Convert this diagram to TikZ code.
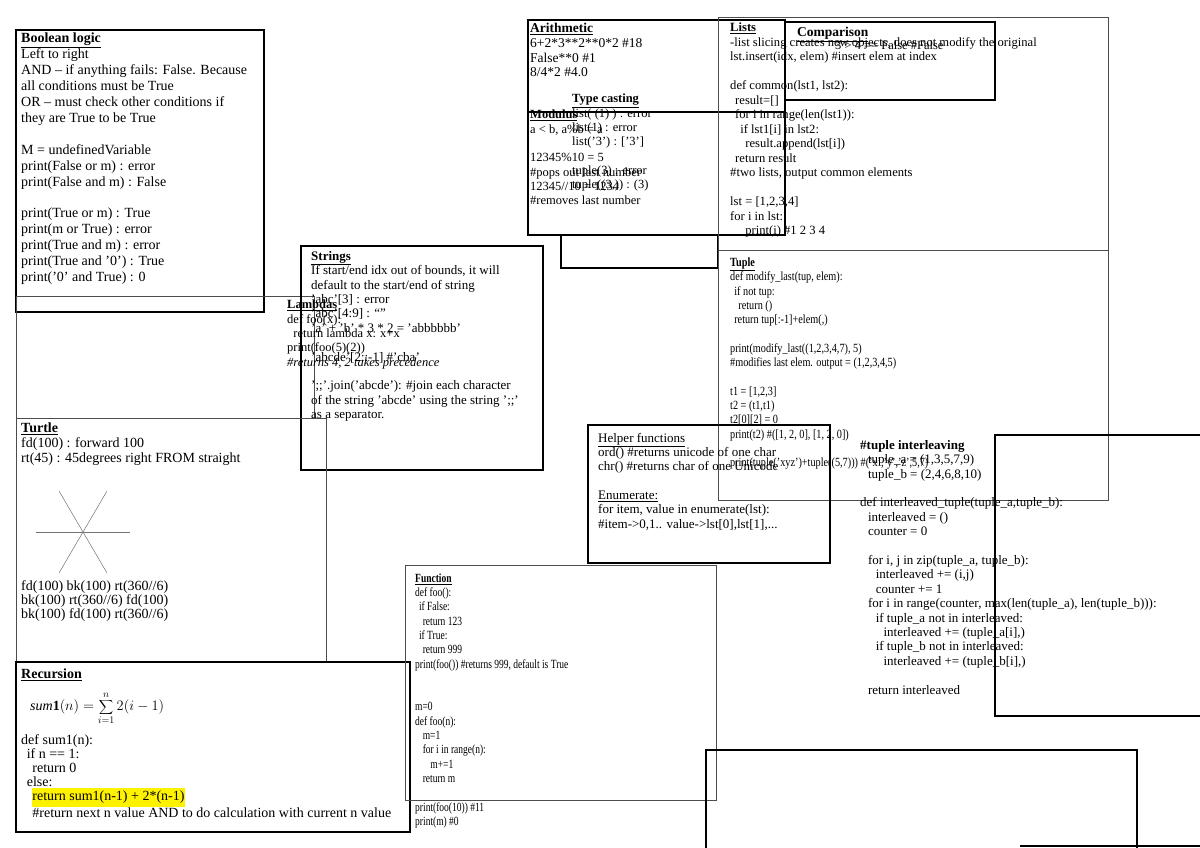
\documentclass[tikz,border=0pt]{standalone}
\usepackage{fontspec}
\usepackage{graphicx}
\setmainfont{Liberation Serif}
\newcommand{\T}[1]{\textbf{\underline{#1}}}
\newcommand{\I}[1]{\hspace*{#1em}}
\newcommand{\narrow}[2]{\scalebox{#1}[1]{\begin{tabular}{@{}l@{}}#2\end{tabular}}}
\begin{document}
\begin{tikzpicture}[x=1pt,y=-1pt,
  bx/.style={draw=black,line width=1.4pt},
  thin/.style={draw=black!70,line width=0.9pt},
  txt/.style={anchor=north west,inner sep=0pt,align=left,font=\fontsize{12.5}{14.3}\selectfont},
  ray/.style={draw=black!55,line width=0.5pt}]
\useasboundingbox (0,0) rectangle (1200,848);
% boxes
\draw[bx] (16,30) rectangle (264,312);
\draw[thin] (16,296) rectangle (314,418);
\draw[bx] (301,246) rectangle (543,470);
\draw[thin] (16,418) rectangle (326,662);
\draw[bx] (16,662) rectangle (410,832);
\draw[thin] (405,565) rectangle (716,800);
\draw[bx] (528,20) rectangle (785,112);
\draw[bx] (528,112) rectangle (785,235);
\draw[bx] (561,235) rectangle (718,268);
\draw[thin] (718,17) rectangle (1108,250);
\draw[bx] (785,22) rectangle (995,100);
\draw[thin] (718,250) rectangle (1108,500);
\draw[bx] (588,425) rectangle (830,563);
\draw[bx] (995,435) rectangle (1202,716);
\draw[bx] (706,750) rectangle (1137,850);
\coordinate (la) at (1020,846); \coordinate (lb) at (1200,846);
\draw[bx] (la) -- (lb);
% Boolean
\node[txt,font=\fontsize{14}{15.9}\selectfont] (bool) at (21,33) {\T{Boolean logic}\\Left to right\\AND -- if anything fails: False. Because\\all conditions must be True\\OR -- must check other conditions if\\they are True to be True\\\strut\\M = undefinedVariable\\print(False or m) : error\\print(False and m) : False\\\strut\\print(True or m) : True\\print(m or True) : error\\print(True and m) : error\\print(True and '0') : True\\print('0' and True) : 0};
% Lambdas
\node[txt] (lam) at (287,300) {\T{Lambdas}\\def foo(x):\\\I{0.5}return lambda x: x+x\\print(foo(5)(2))\\\textit{\#returns 4, 2 takes precedence}};
% Strings
\node[txt,font=\fontsize{13}{14.4}\selectfont] (str) at (311,251) {\T{Strings}\\If start/end idx out of bounds, it will\\default to the start/end of string\\'abc'[3] : error\\'abc'[4:9] : “”\\'a' + 'b' * 3 * 2 = 'abbbbbb'\\\strut\\'abcde'[2::-1] \#'cba'\\\strut\\';;'.join('abcde'): \#join each character\\of the string 'abcde' using the string ';;'\\as a separator.};
% Turtle
\node[txt,font=\fontsize{14}{14.6}\selectfont] (turt) at (21,423) {\T{Turtle}\\fd(100) : forward 100\\rt(45) : 45degrees right FROM straight};
\coordinate (c) at (83,532);
\coordinate (r1) at (36,532); \coordinate (r2) at (130,532);
\coordinate (r3) at (59,491); \coordinate (r4) at (107,491);
\coordinate (r5) at (59,573); \coordinate (r6) at (107,573);
\draw[ray] (r1) -- (r2); \draw[ray] (r3) -- (r6); \draw[ray] (r4) -- (r5);
\node[txt,font=\fontsize{14}{14.2}\selectfont] (turt2) at (21,580) {fd(100) bk(100) rt(360//6)\\bk(100) rt(360//6) fd(100)\\bk(100) fd(100) rt(360//6)};
% Recursion
\node[txt,font=\fontsize{14}{14.2}\selectfont] (rec) at (21,669) {\T{Recursion}};
\node[anchor=west,inner sep=0pt,font=\fontsize{14}{16}\selectfont] (form) at (30,708) {$\displaystyle \mathit{sum}\mathbf{1}(n)=\sum_{i=1}^{n}2(i-1)$};
\node[txt,font=\fontsize{14}{14.2}\selectfont] (rec2) at (21,734) {def sum1(n):\\\I{0.4}if n == 1:\\\I{0.8}return 0\\\I{0.4}else:\\\I{0.8}\colorbox{yellow}{\rule{0pt}{9pt}\hspace*{-3pt}return sum1(n-1) + 2*(n-1)\hspace*{-3pt}}\\\I{0.8}\#return next n value AND to do calculation with current n value};
% Function
\node[txt] (func) at (415,572) {\narrow{0.76}{\T{Function}\\def foo():\\\I{0.4}if False:\\\I{0.8}return 123\\\I{0.4}if True:\\\I{0.8}return 999\\print(foo()) \#returns 999, default is True\\\strut\\\strut\\m=0\\def foo(n):\\\I{0.8}m=1\\\I{0.8}for i in range(n):\\\I{1.6}m+=1\\\I{0.8}return m\\\strut\\print(foo(10)) \#11\\print(m) \#0}};
% Arithmetic
\node[txt,font=\fontsize{13.5}{14.8}\selectfont] (ar) at (530,23) {\T{Arithmetic}\\6+2*3**2**0*2 \#18\\False**0 \#1\\8/4*2 \#4.0};
\node[txt] (tc) at (572,94) {\T{Type casting}\\list( (1) ) : error\\list(1) : error\\list('3') : ['3']\\\strut\\tuple(3) : error\\tuple((3,)) : (3)};
\node[txt] (mod) at (530,110) {\T{Modulus}\\a < b, a\%b = a\\\strut\\12345\%10 = 5\\\#pops out last number\\12345//10 = 1234\\\#removes last number};
% Lists
\node[txt,font=\fontsize{12.6}{14.5}\selectfont] (lst) at (730,23) {\T{Lists}\\-list slicing creates new objects, does not modify the original\\lst.insert(idx, elem) \#insert elem at index\\\strut\\def common(lst1, lst2):\\\I{0.4}result=[]\\\I{0.4}for i in range(len(lst1)):\\\I{0.8}if lst1[i] in lst2:\\\I{1.2}result.append(lst[i])\\\I{0.4}return result\\\#two lists, output common elements\\\strut\\lst = [1,2,3,4]\\for i in lst:\\\I{1.2}print(i) \#1 2 3 4};
% Comparison
\node[txt,font=\fontsize{13.5}{14.8}\selectfont] (cmp) at (797,27) {\T{Comparison}};
\node[txt] (cmp2) at (835,41) {3 > 4 == False \#False};
% Tuple
\node[txt] (tup) at (730,256) {\narrow{0.82}{\T{Tuple}\\def modify\_last(tup, elem):\\\I{0.4}if not tup:\\\I{0.8}return ()\\\I{0.4}return tup[:-1]+elem(,)\\\strut\\print(modify\_last((1,2,3,4,7), 5)\\\#modifies last elem. output = (1,2,3,4,5)\\\strut\\t1 = [1,2,3]\\t2 = (t1,t1)\\t2[0][2] = 0\\print(t2) \#([1, 2, 0], [1, 2, 0])\\\strut\\print(tuple('xyz')+tuple((5,7))) \#('x','y','z',5,7)}};
% Helper
\node[txt,font=\fontsize{13}{14.3}\selectfont] (help) at (598,433) {\underline{Helper functions}\\ord() \#returns unicode of one char\\chr() \#returns char of one Unicode\\\strut\\\underline{Enumerate:}\\for item, value in enumerate(lst):\\\#item->0,1.. value->lst[0],lst[1],...};
% Tuple interleaving
\node[txt,font=\fontsize{13}{14.4}\selectfont] (int) at (860,440) {\textbf{\#tuple interleaving}\\\I{0.6}tuple\_a = (1,3,5,7,9)\\\I{0.6}tuple\_b = (2,4,6,8,10)\\\strut\\def interleaved\_tuple(tuple\_a,tuple\_b):\\\I{0.6}interleaved = ()\\\I{0.6}counter = 0\\\strut\\\I{0.6}for i, j in zip(tuple\_a, tuple\_b):\\\I{1.2}interleaved += (i,j)\\\I{1.2}counter += 1\\\I{0.6}for i in range(counter, max(len(tuple\_a), len(tuple\_b))):\\\I{1.2}if tuple\_a not in interleaved:\\\I{1.8}interleaved += (tuple\_a[i],)\\\I{1.2}if tuple\_b not in interleaved:\\\I{1.8}interleaved += (tuple\_b[i],)\\\strut\\\I{0.6}return interleaved};
\end{tikzpicture}
\end{document}
